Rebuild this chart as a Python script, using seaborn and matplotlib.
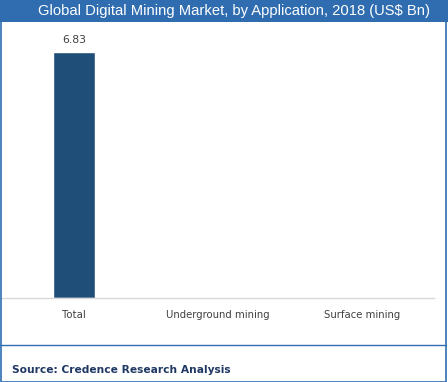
import numpy as np
import pandas as pd
import matplotlib
matplotlib.use("Agg")
import matplotlib.pyplot as plt
import seaborn as sns
from matplotlib.patches import Rectangle
from matplotlib.lines import Line2D

categories = ["Total", "Underground mining", "Surface mining"]
values = [6.83, np.nan, np.nan]
title = "Global Digital Mining Market, by Application, 2018 (US$ Bn)"
source = "Source: Credence Research Analysis"

df = pd.DataFrame({"Application": categories, "Value": values})

sns.set_style("white")
W, H = 448, 382
fig = plt.figure(figsize=(W / 100, H / 100), dpi=100)

# axes placement in pixels
left, right, top, bottom = 2, 434, 30, 298
ax = fig.add_axes([left / W, 1 - bottom / H, (right - left) / W, (bottom - top) / H])

sns.barplot(data=df, x="Application", y="Value", color="#1f4e79", width=0.285,
            saturation=1, ax=ax)
ax.set_xlim(-0.5, 2.5)
ax.set_ylim(0, 7.45)
for i, v in enumerate(values):
    if not np.isnan(v):
        ax.text(i, v + 0.2, f"{v:.2f}", ha="center", va="bottom",
                fontsize=7.8, color="#404040", family="DejaVu Sans")

ax.set_xlabel("")
ax.set_ylabel("")
ax.set_yticks([])
ax.tick_params(axis="x", length=0, pad=9, labelsize=7.3, labelcolor="#404040")
for s in ["top", "right", "left"]:
    ax.spines[s].set_visible(False)
ax.spines["bottom"].set_color("#d9d9d9")
ax.spines["bottom"].set_linewidth(1)

# title banner
fig.patches.append(Rectangle((0, 1 - 22 / H), 1, 22 / H, transform=fig.transFigure,
                             facecolor="#2f6db0", edgecolor="none", zorder=0))
fig.text(234 / W, 1 - 11.5 / H, title, ha="center", va="center", color="white",
         fontsize=10.6, family="Liberation Sans")

# outer border and separator
fig.patches.append(Rectangle((0.5 / W, 0.5 / H), 445 / W, 1 - 1 / H,
                             transform=fig.transFigure, facecolor="none",
                             edgecolor="#2f6db0", linewidth=1.2, zorder=5))
fig.lines.append(Line2D([0, 446 / W], [1 - 345 / H, 1 - 345 / H], transform=fig.transFigure,
                        color="#2f6db0", linewidth=1))
fig.text(12 / W, 1 - 370 / H, source, ha="left", va="center", color="#1f3864",
         fontsize=7.7, fontweight="bold", family="DejaVu Sans")

fig.savefig("out.png", dpi=100)
